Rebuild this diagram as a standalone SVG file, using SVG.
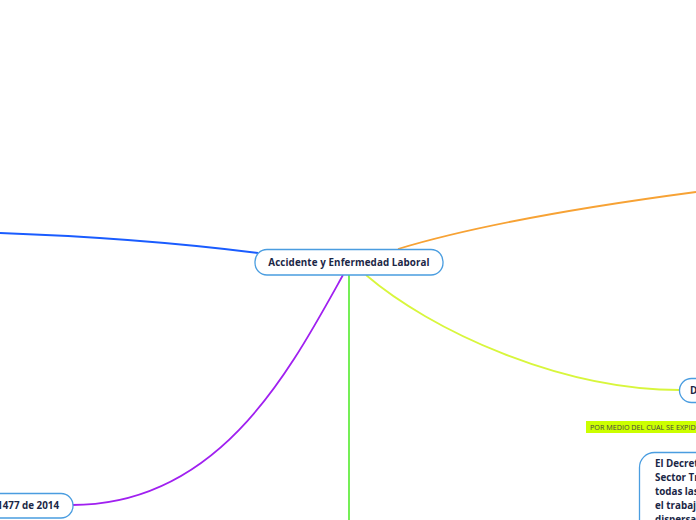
<svg xmlns="http://www.w3.org/2000/svg" width="696" height="520" viewBox="0 0 696 520">
<style>
.node{fill:#ffffff;stroke:#4a9de0;stroke-width:1.3}
.t{font-family:"Open Sans","DejaVu Sans",sans-serif;font-weight:bold;font-size:9.8px;fill:#1b2746}
.c{fill:none;stroke-width:1.8}
.lbl{font-family:"Open Sans","DejaVu Sans",sans-serif;font-size:7.2px;fill:#444}
</style>
<rect width="696" height="520" fill="#ffffff"/>
<g id="connectors">
<path class="c" stroke="#1a5cff" d="M258,253 Q140,238 0,233"/>
<path class="c" stroke="#f7a234" d="M398,249 Q500,218 696,192"/>
<path class="c" stroke="#d8f63c" d="M366,275 C430,330 560,390 680,390"/>
<path class="c" stroke="#a020f0" d="M343,275 C290,370 220,505 72,505"/>
<path class="c" stroke="#66ee44" d="M349,275 L349,520"/>
</g>
<g id="central">
<rect class="node" x="255" y="249.5" width="188" height="25.5" rx="12"/>
<text class="t" x="349" y="266" text-anchor="middle" letter-spacing="0.1">Accidente y Enfermedad Laboral</text>
</g>
<g id="node-decreto-right">
<rect class="node" x="679.5" y="378.5" width="60" height="24" rx="12"/>
<text class="t" x="690" y="394">Decreto</text>
</g>
<g id="label-por-medio">
<rect x="586" y="421" width="120" height="12" fill="#ccff00"/>
<text class="lbl" x="590" y="430">POR MEDIO DEL CUAL SE EXPIDE</text>
</g>
<g id="node-descripcion">
<rect class="node" x="639.5" y="452.5" width="100" height="90" rx="15"/>
<text class="t" x="655" y="467">El Decreto</text>
<text class="t" x="655" y="481">Sector Trabajo</text>
<text class="t" x="655" y="495">todas las</text>
<text class="t" x="655" y="509">el trabajo</text>
<text class="t" x="655" y="523">dispersas</text>
</g>
<g id="node-1477">
<rect class="node" x="-30" y="493.5" width="103" height="24.5" rx="12"/>
<text class="t" x="59" y="509" text-anchor="end">1477 de 2014</text>
</g>
</svg>
